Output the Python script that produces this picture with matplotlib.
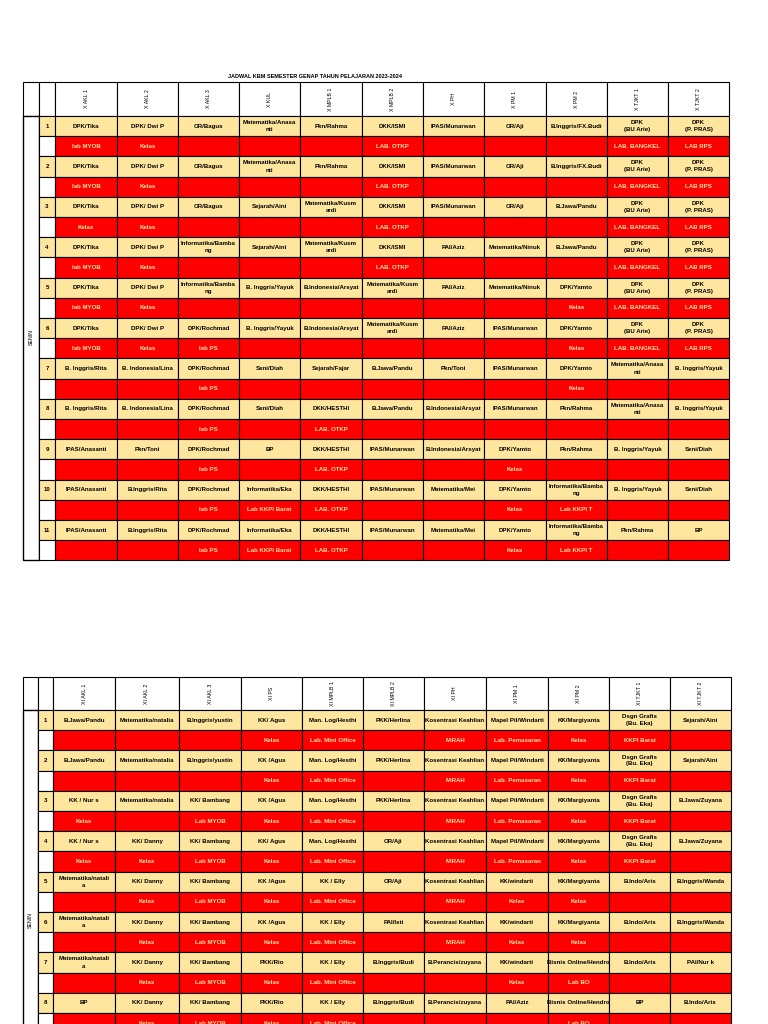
import matplotlib
matplotlib.use("Agg")
import matplotlib.pyplot as plt
from matplotlib.patches import Rectangle

plt.rcParams['font.family'] = ['Liberation Sans', 'DejaVu Sans']

YELLOW = '#FFE69F'
RED = '#FF0000'
RED_TEXT = '#FFE3A3'

title = "JADWAL KBM SEMESTER GENAP TAHUN PELAJARAN 2023-2024"
day_label = "SENIN"

# ---------------- top table (kelas X) ----------------
top_classes = ['X AKL 1', 'X AKL 2', 'X AKL 3', 'X KUL', 'X MPLB 1', 'X MPLB 2',
               'X PH', 'X PM 1', 'X PM 2', 'X TJKT 1', 'X TJKT 2']
DA = 'DPK\n(BU Arie)'
DP = 'DPK\n(P. PRAS)'
MA = 'Matematika/Anasa\nnti'
MK = 'Matematika/Kusm\nardi'
IB = 'Informatika/Bamba\nng'
top_lessons = [
    ['DPK/Tika', 'DPK/ Dwi P', 'OR/Bagus', MA, 'Pkn/Rahma', 'DKK/ISMI', 'IPAS/Munarwan', 'OR/Aji', 'B.Inggris/FX.Budi', DA, DP],
    ['DPK/Tika', 'DPK/ Dwi P', 'OR/Bagus', MA, 'Pkn/Rahma', 'DKK/ISMI', 'IPAS/Munarwan', 'OR/Aji', 'B.Inggris/FX.Budi', DA, DP],
    ['DPK/Tika', 'DPK/ Dwi P', 'OR/Bagus', 'Sejarah/Aini', MK, 'DKK/ISMI', 'IPAS/Munarwan', 'OR/Aji', 'B.Jawa/Pandu', DA, DP],
    ['DPK/Tika', 'DPK/ Dwi P', IB, 'Sejarah/Aini', MK, 'DKK/ISMI', 'PAI/Aziz', 'Matematika/Ninuk', 'B.Jawa/Pandu', DA, DP],
    ['DPK/Tika', 'DPK/ Dwi P', IB, 'B. Inggris/Yayuk', 'B.Indonesia/Arsyat', MK, 'PAI/Aziz', 'Matematika/Ninuk', 'DPK/Yamto', DA, DP],
    ['DPK/Tika', 'DPK/ Dwi P', 'DPK/Rochmad', 'B. Inggris/Yayuk', 'B.Indonesia/Arsyat', MK, 'PAI/Aziz', 'IPAS/Munarwan', 'DPK/Yamto', DA, DP],
    ['B. Inggris/Rita', 'B. Indonesia/Lina', 'DPK/Rochmad', 'Seni/Diah', 'Sejarah/Fajar', 'B.Jawa/Pandu', 'Pkn/Toni', 'IPAS/Munarwan', 'DPK/Yamto', MA, 'B. Inggris/Yayuk'],
    ['B. Inggris/Rita', 'B. Indonesia/Lina', 'DPK/Rochmad', 'Seni/Diah', 'DKK/HESTHI', 'B.Jawa/Pandu', 'B.Indonesia/Arsyat', 'IPAS/Munarwan', 'Pkn/Rahma', MA, 'B. Inggris/Yayuk'],
    ['IPAS/Anasanti', 'Pkn/Toni', 'DPK/Rochmad', 'BP', 'DKK/HESTHI', 'IPAS/Munarwan', 'B.Indonesia/Arsyat', 'DPK/Yamto', 'Pkn/Rahma', 'B. Inggris/Yayuk', 'Seni/Diah'],
    ['IPAS/Anasanti', 'B.Inggris/Rita', 'DPK/Rochmad', 'Informatika/Eka', 'DKK/HESTHI', 'IPAS/Munarwan', 'Matematika/Mei', 'DPK/Yamto', IB, 'B. Inggris/Yayuk', 'Seni/Diah'],
    ['IPAS/Anasanti', 'B.Inggris/Rita', 'DPK/Rochmad', 'Informatika/Eka', 'DKK/HESTHI', 'IPAS/Munarwan', 'Matematika/Mei', 'DPK/Yamto', IB, 'Pkn/Rahma', 'BP'],
]
top_rooms = [
    ['lab MYOB', 'Kelas', '', '', '', 'LAB. OTKP', '', '', '', 'LAB. BANGKEL', 'LAB RPS'],
    ['lab MYOB', 'Kelas', '', '', '', 'LAB. OTKP', '', '', '', 'LAB. BANGKEL', 'LAB RPS'],
    ['Kelas', 'Kelas', '', '', '', 'LAB. OTKP', '', '', '', 'LAB. BANGKEL', 'LAB RPS'],
    ['lab MYOB', 'Kelas', '', '', '', 'LAB. OTKP', '', '', '', 'LAB. BANGKEL', 'LAB RPS'],
    ['lab MYOB', 'Kelas', '', '', '', '', '', '', 'Kelas', 'LAB. BANGKEL', 'LAB RPS'],
    ['lab MYOB', 'Kelas', 'lab PS', '', '', '', '', '', 'Kelas', 'LAB. BANGKEL', 'LAB RPS'],
    ['', '', 'lab PS', '', '', '', '', '', 'Kelas', '', ''],
    ['', '', 'lab PS', '', 'LAB. OTKP', '', '', '', '', '', ''],
    ['', '', 'lab PS', '', 'LAB. OTKP', '', '', 'Kelas', '', '', ''],
    ['', '', 'lab PS', 'Lab KKPI Barat', 'LAB. OTKP', '', '', 'Kelas', 'Lab KKPI T', '', ''],
    ['', '', 'lab PS', 'Lab KKPI Barat', 'LAB. OTKP', '', '', 'Kelas', 'Lab KKPI T', '', ''],
]

# ---------------- bottom table (kelas XI) ----------------
bot_classes = ['XI AKL 1', 'XI AKL 2', 'XI AKL 3', 'XI PS', 'XI MPLB 1', 'XI MPLB 2',
               'XI PH', 'XI PM 1', 'XI PM 2', 'XI TJKT 1', 'XI TJKT 2']
DG = 'Dsgn Grafis\n(Bu. Eka)'
MN = 'Matematika/natali\na'
KO = 'Kosentrasi Keahlian'
MP = 'Mapel Pil/Windarti'
bot_lessons = [
    ['B.Jawa/Pandu', 'Matematika/natalia', 'B.Inggris/yustin', 'KK/ Agus', 'Man. Log/Hesthi', 'PKK/Herlina', KO, MP, 'KK/Margiyanta', DG, 'Sejarah/Aini'],
    ['B.Jawa/Pandu', 'Matematika/natalia', 'B.Inggris/yustin', 'KK /Agus', 'Man. Log/Hesthi', 'PKK/Herlina', KO, MP, 'KK/Margiyanta', DG, 'Sejarah/Aini'],
    ['KK / Nur s', 'Matematika/natalia', 'KK/ Bambang', 'KK /Agus', 'Man. Log/Hesthi', 'PKK/Herlina', KO, MP, 'KK/Margiyanta', DG, 'B.Jawa/Zuyana'],
    ['KK / Nur s', 'KK/ Danny', 'KK/ Bambang', 'KK/ Agus', 'Man. Log/Hesthi', 'OR/Aji', KO, MP, 'KK/Margiyanta', DG, 'B.Jawa/Zuyana'],
    [MN, 'KK/ Danny', 'KK/ Bambang', 'KK /Agus', 'KK / Elly', 'OR/Aji', KO, 'KK/windarti', 'KK/Margiyanta', 'B.Indo/Aris', 'B.Inggris/Wanda'],
    [MN, 'KK/ Danny', 'KK/ Bambang', 'KK /Agus', 'KK / Elly', 'PAI/Isti', KO, 'KK/windarti', 'KK/Margiyanta', 'B.Indo/Aris', 'B.Inggris/Wanda'],
    [MN, 'KK/ Danny', 'KK/ Bambang', 'PKK/Rio', 'KK / Elly', 'B.Inggris/Budi', 'B.Perancis/zuyana', 'KK/windarti', 'Bisnis Online/Hendro', 'B.Indo/Aris', 'PAI/Nur k'],
    ['BP', 'KK/ Danny', 'KK/ Bambang', 'PKK/Rio', 'KK / Elly', 'B.Inggris/Budi', 'B.Perancis/zuyana', 'PAI/Aziz', 'Bisnis Online/Hendro', 'BP', 'B.Indo/Aris'],
]
bot_rooms = [
    ['', '', '', 'Kelas', 'Lab. Mini Office', '', 'MIRAH', 'Lab. Pemasaran', 'Kelas', 'KKPI Barat', ''],
    ['', '', '', 'Kelas', 'Lab. Mini Office', '', 'MIRAH', 'Lab. Pemasaran', 'Kelas', 'KKPI Barat', ''],
    ['Kelas', '', 'Lab MYOB', 'Kelas', 'Lab. Mini Office', '', 'MIRAH', 'Lab. Pemasaran', 'Kelas', 'KKPI Barat', ''],
    ['Kelas', 'Kelas', 'Lab MYOB', 'Kelas', 'Lab. Mini Office', '', 'MIRAH', 'Lab. Pemasaran', 'Kelas', 'KKPI Barat', ''],
    ['', 'Kelas', 'Lab MYOB', 'Kelas', 'Lab. Mini Office', '', 'MIRAH', 'Kelas', 'Kelas', '', ''],
    ['', 'Kelas', 'Lab MYOB', 'Kelas', 'Lab. Mini Office', '', 'MIRAH', 'Kelas', 'Kelas', '', ''],
    ['', 'Kelas', 'Lab MYOB', 'Kelas', 'Lab. Mini Office', '', '', 'Kelas', 'Lab BO', '', ''],
    ['', 'Kelas', 'Lab MYOB', 'Kelas', 'Lab. Mini Office', '', '', '', 'Lab BO', '', ''],
]

fig = plt.figure(figsize=(7.68, 10.24), dpi=100)
ax = fig.add_axes([0, 0, 1, 1])
ax.set_xlim(0, 768)
ax.set_ylim(1024, 0)
ax.axis('off')


def cell(x0, x1, y0, y1, fc, text='', color='black', size=4.4, lw=0.8):
    ax.add_patch(Rectangle((x0, y0), x1 - x0, y1 - y0, facecolor=fc,
                           edgecolor='black', linewidth=lw))
    if text:
        ax.text((x0 + x1) / 2, (y0 + y1) / 2, text, ha='center', va='center',
                fontsize=size, fontweight='bold', color=color, linespacing=1.5)


def draw_table(edges, y_top, y_head, row_h, classes, lessons, rooms, day_y):
    day_x0, num_x0, cls_x0 = edges[0], edges[1], edges[2]
    # header
    cell(day_x0, num_x0, y_top, y_head, 'white')
    cell(num_x0, cls_x0, y_top, y_head, 'white')
    for j, name in enumerate(classes):
        x0, x1 = edges[j + 2], edges[j + 3]
        cell(x0, x1, y_top, y_head, 'white')
        ax.text((x0 + x1) / 2, (y_top + y_head) / 2, name, rotation=90,
                ha='center', va='center', fontsize=3.8)
    n = len(lessons)
    y_end = y_head + row_h * 2 * n
    cell(day_x0, num_x0, y_head, y_end, 'white', lw=1.0)
    ax.text((day_x0 + num_x0) / 2, day_y, day_label, rotation=90,
            ha='center', va='center', fontsize=3.8)
    for i in range(n):
        ya = y_head + row_h * 2 * i
        yb = ya + row_h
        cell(num_x0, cls_x0, ya, yb, YELLOW, str(i + 1))
        cell(num_x0, cls_x0, yb, yb + row_h, 'white')
        for j in range(len(classes)):
            x0, x1 = edges[j + 2], edges[j + 3]
            cell(x0, x1, ya, yb, YELLOW, lessons[i][j])
            cell(x0, x1, yb, yb + row_h, RED, rooms[i][j], color=RED_TEXT)


top_edges = [23, 39, 55, 117, 178, 239, 300, 362, 423, 484, 546, 607, 668, 729]
bot_edges = [23, 38, 53, 115, 179, 241, 302, 363, 424, 486, 548, 609, 670, 731]

ax.text(315, 76, title, ha='center', va='center', fontsize=4.0, fontweight='bold')
draw_table(top_edges, 82, 116, 20.2, top_classes, top_lessons, top_rooms, 337)
draw_table(bot_edges, 677, 710, 20.2, bot_classes, bot_lessons, bot_rooms, 920)

fig.savefig('out.png', dpi=100)
